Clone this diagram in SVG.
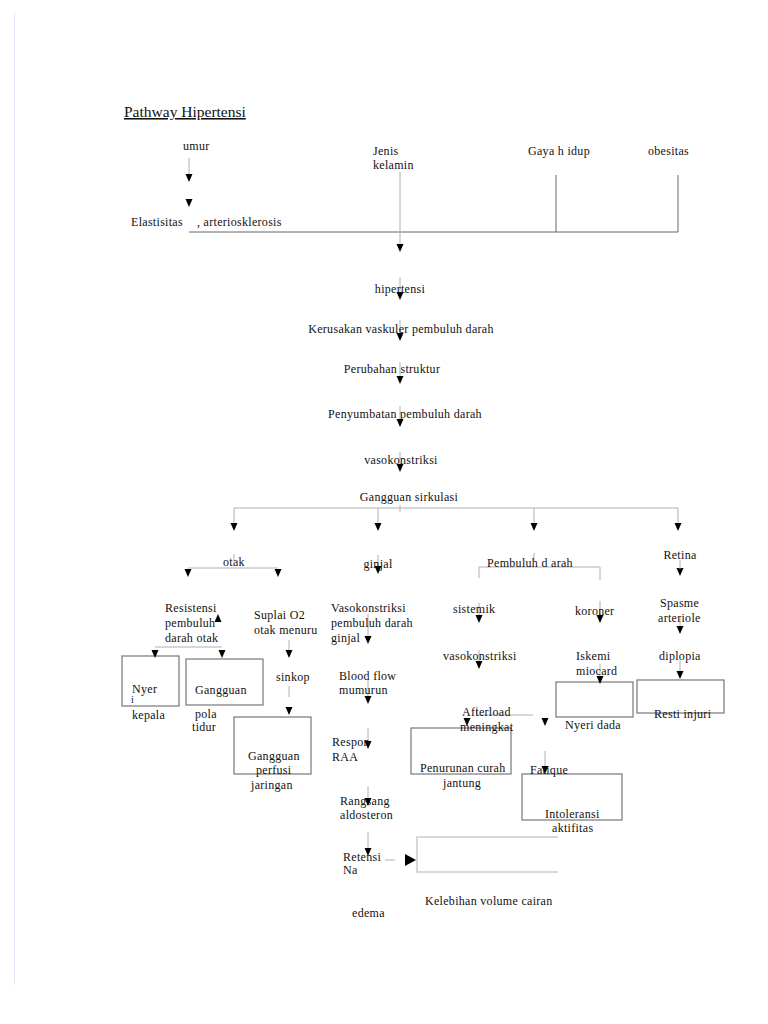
<svg xmlns="http://www.w3.org/2000/svg" xmlns:xlink="http://www.w3.org/1999/xlink" width="768" height="1024" viewBox="0 0 768 1024">
<style>
text{font-family:"Liberation Serif","Times New Roman",serif;font-size:12px;letter-spacing:0.3px;fill:#111}
.t{font-size:15.5px;letter-spacing:0;text-decoration:underline}
.ln{stroke:#b0b0b0;stroke-width:1;fill:none}
.lnd{stroke:#666;stroke-width:1;fill:none}
.box{fill:#fff;stroke:#777;stroke-width:1.2}
.lbox{fill:#fff;stroke:#ccc;stroke-width:1.5}
</style>
<defs>
<path id="a" d="M-3.5,-4 L3.5,-4 L0,4 Z" fill="#000"/>
<path id="au" d="M-3.5,4 L3.5,4 L0,-4 Z" fill="#000"/>
<path id="ar" d="M-5,-6 L6,0 L-5,6 Z" fill="#000"/>
</defs>
<rect width="768" height="1024" fill="#fff"/>
<line x1="14.5" y1="13" x2="14.5" y2="985" stroke="#e4e4f4" stroke-width="1"/>

<text class="t" x="124" y="117">Pathway Hipertensi</text>

<g id="boxes">
<rect class="box" x="122" y="656" width="57" height="50"/>
<rect class="box" x="186" y="659" width="77" height="46"/>
<rect class="box" x="234" y="717" width="77" height="57"/>
<rect class="box" x="411" y="728" width="100" height="46"/>
<rect class="box" x="556" y="682" width="77" height="35"/>
<rect class="box" x="637" y="680" width="87" height="33"/>
<rect class="box" x="522" y="774" width="100" height="46"/>
<path class="lbox" d="M558,837 L417,837 L417,872 L558,872"/>
</g>

<g id="connectors">
<line class="lnd" x1="189" y1="232" x2="678" y2="232"/>
<line class="lnd" x1="556" y1="175" x2="556" y2="232"/>
<line class="lnd" x1="678" y1="175" x2="678" y2="232"/>
<line class="ln" x1="189" y1="158" x2="189" y2="176"/>
<line class="ln" x1="400" y1="172" x2="400" y2="246"/>
<use xlink:href="#a" x="189" y="178"/>
<use xlink:href="#a" x="189" y="203"/>
<use xlink:href="#a" x="400" y="248"/>
<line class="ln" x1="400" y1="277" x2="400" y2="295"/>
<use xlink:href="#a" x="400" y="296"/>
<line class="ln" x1="400" y1="320" x2="400" y2="335"/>
<use xlink:href="#a" x="400" y="337"/>
<line class="ln" x1="400" y1="362" x2="400" y2="378"/>
<use xlink:href="#a" x="400" y="380"/>
<line class="ln" x1="400" y1="406" x2="400" y2="421"/>
<use xlink:href="#a" x="400" y="423"/>
<line class="ln" x1="400" y1="452" x2="400" y2="466"/>
<use xlink:href="#a" x="400" y="468"/>
<line class="ln" x1="400" y1="505" x2="400" y2="512"/>
<line class="ln" x1="234" y1="508" x2="678" y2="508"/>
<line class="ln" x1="234" y1="508" x2="234" y2="523"/>
<line class="ln" x1="378" y1="508" x2="378" y2="523"/>
<line class="ln" x1="534" y1="508" x2="534" y2="523"/>
<line class="ln" x1="678" y1="508" x2="678" y2="523"/>
<use xlink:href="#a" x="234" y="527"/>
<use xlink:href="#a" x="378" y="527"/>
<use xlink:href="#a" x="534" y="527"/>
<use xlink:href="#a" x="678" y="527"/>
<line class="ln" x1="234" y1="554" x2="234" y2="562"/>
<line class="ln" x1="188" y1="568" x2="278" y2="568"/>
<use xlink:href="#a" x="188" y="573"/>
<use xlink:href="#a" x="278" y="573"/>
<line class="ln" x1="378" y1="555" x2="378" y2="568"/>
<use xlink:href="#a" x="378" y="570"/>
<line class="ln" x1="479" y1="567" x2="600" y2="567"/>
<line class="ln" x1="479" y1="567" x2="479" y2="578"/>
<line class="ln" x1="600" y1="567" x2="600" y2="580"/>
<line class="ln" x1="534" y1="553" x2="534" y2="561"/>
<use xlink:href="#a" x="680" y="572"/>
<use xlink:href="#au" x="218" y="618"/>
<line class="ln" x1="155" y1="647" x2="222" y2="647"/>
<use xlink:href="#a" x="155" y="654"/>
<use xlink:href="#a" x="222" y="654"/>
<line class="ln" x1="289" y1="640" x2="289" y2="650"/>
<use xlink:href="#a" x="289" y="654"/>
<line class="ln" x1="289" y1="686" x2="289" y2="697"/>
<use xlink:href="#a" x="289" y="711"/>
<line class="ln" x1="368" y1="614" x2="368" y2="637"/>
<use xlink:href="#a" x="368" y="640"/>
<line class="ln" x1="368" y1="680" x2="368" y2="697"/>
<use xlink:href="#a" x="368" y="700"/>
<line class="ln" x1="368" y1="728" x2="368" y2="742"/>
<use xlink:href="#a" x="368" y="745"/>
<line class="ln" x1="368" y1="786" x2="368" y2="800"/>
<use xlink:href="#a" x="368" y="802"/>
<line class="ln" x1="368" y1="832" x2="368" y2="849"/>
<use xlink:href="#a" x="368" y="852"/>
<line class="ln" x1="385" y1="860" x2="395" y2="860"/>
<use xlink:href="#ar" x="410" y="860"/>
<line class="ln" x1="479" y1="603" x2="479" y2="616"/>
<use xlink:href="#a" x="479" y="619"/>
<line class="ln" x1="479" y1="650" x2="479" y2="662"/>
<use xlink:href="#a" x="479" y="665"/>
<line class="ln" x1="600" y1="601" x2="600" y2="616"/>
<use xlink:href="#a" x="600" y="619"/>
<line class="ln" x1="600" y1="664" x2="600" y2="677"/>
<use xlink:href="#a" x="600" y="680"/>
<line class="ln" x1="680" y1="560" x2="680" y2="569"/>
<line class="ln" x1="680" y1="618" x2="680" y2="628"/>
<use xlink:href="#a" x="680" y="630"/>
<line class="ln" x1="680" y1="660" x2="680" y2="672"/>
<use xlink:href="#a" x="680" y="675"/>
<line class="ln" x1="477" y1="706" x2="477" y2="715"/>
<line class="ln" x1="477" y1="715" x2="533" y2="715"/>
<use xlink:href="#a" x="467" y="722"/>
<use xlink:href="#a" x="545" y="722"/>
<line class="ln" x1="545" y1="751" x2="545" y2="766"/>
<use xlink:href="#a" x="545" y="770"/>
</g>

<g id="n-umur"><text x="183" y="150">umur</text></g>
<g id="n-jenis"><text x="373" y="155">Jenis</text><text x="373" y="169">kelamin</text></g>
<g id="n-gaya"><text x="528" y="155">Gaya h  idup</text></g>
<g id="n-obesitas"><text x="648" y="155">obesitas</text></g>
<g id="n-elastisitas"><text x="131" y="226">Elastisitas</text><text x="197" y="226">, arteriosklerosis</text></g>
<g id="n-hipertensi"><text x="400" y="293" text-anchor="middle">hipertensi</text></g>
<g id="n-kerusakan"><text x="401" y="333" text-anchor="middle">Kerusakan vaskuler pembuluh darah</text></g>
<g id="n-perubahan"><text x="392" y="373" text-anchor="middle">Perubahan struktur</text></g>
<g id="n-penyumbatan"><text x="405" y="418" text-anchor="middle">Penyumbatan pembuluh darah</text></g>
<g id="n-vasokonstriksi"><text x="401" y="464" text-anchor="middle">vasokonstriksi</text></g>
<g id="n-gangguan-sirk"><text x="409" y="501" text-anchor="middle">Gangguan sirkulasi</text></g>
<g id="n-otak"><text x="234" y="566" text-anchor="middle">otak</text></g>
<g id="n-ginjal"><text x="378" y="568" text-anchor="middle">ginjal</text></g>
<g id="n-pembuluh"><text x="530" y="567" text-anchor="middle">Pembuluh d arah</text></g>
<g id="n-retina"><text x="680" y="559" text-anchor="middle">Retina</text></g>
<g id="n-resistensi"><text x="165" y="612">Resistensi</text><text x="165" y="627">pembuluh</text><text x="165" y="642">darah otak</text></g>
<g id="n-suplai"><text x="254" y="619">Suplai O2</text><text x="254" y="634">otak menuru</text></g>
<g id="n-vaso-ginjal"><text x="331" y="612">Vasokonstriksi</text><text x="331" y="627">pembuluh darah</text><text x="331" y="642">ginjal</text></g>
<g id="n-sistemik"><text x="453" y="613">sistemik</text></g>
<g id="n-koroner"><text x="575" y="615">koroner</text></g>
<g id="n-spasme"><text x="660" y="607">Spasme</text><text x="658" y="622">arteriole</text></g>
<g id="n-nyeri-kepala"><text x="132" y="693">Nyer</text><text x="131" y="703" style="font-size:10px">i</text><text x="132" y="719">kepala</text></g>
<g id="n-gangguan-pola"><text x="195" y="694">Gangguan</text><text x="195" y="718">pola</text><text x="192" y="731">tidur</text></g>
<g id="n-sinkop"><text x="276" y="681">sinkop</text></g>
<g id="n-perfusi"><text x="248" y="760">Gangguan</text><text x="256" y="774">perfusi</text><text x="251" y="789">jaringan</text></g>
<g id="n-blood"><text x="339" y="680">Blood flow</text><text x="339" y="694">mumurun</text></g>
<g id="n-respon"><text x="332" y="746">Respon</text><text x="332" y="761">RAA</text></g>
<g id="n-rangsang"><text x="340" y="805">Rangsang</text><text x="340" y="819">aldosteron</text></g>
<g id="n-retensi"><text x="343" y="861">Retensi</text><text x="343" y="874">Na</text></g>
<g id="n-kelebihan"><text x="425" y="905">Kelebihan volume cairan</text></g>
<g id="n-edema"><text x="352" y="917">edema</text></g>
<g id="n-vaso-sist"><text x="443" y="660">vasokonstriksi</text></g>
<g id="n-iskemi"><text x="576" y="660">Iskemi</text><text x="576" y="675">miocard</text></g>
<g id="n-diplopia"><text x="659" y="660">diplopia</text></g>
<g id="n-afterload"><text x="462" y="716">Afterload</text><text x="460" y="731">meningkat</text></g>
<g id="n-penurunan"><text x="420" y="772">Penurunan curah</text><text x="443" y="787">jantung</text></g>
<g id="n-nyeri-dada"><text x="565" y="729">Nyeri dada</text></g>
<g id="n-resti"><text x="654" y="718">Resti injuri</text></g>
<g id="n-fatique"><text x="530" y="774">Fatique</text></g>
<g id="n-intoleransi"><text x="545" y="818">Intoleransi</text><text x="552" y="832">aktifitas</text></g>
</svg>
